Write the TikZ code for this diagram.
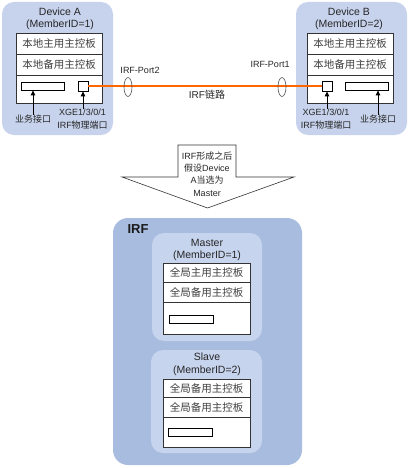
\documentclass[tikz,border=0pt]{standalone}
\usepackage{fontspec}
\setmainfont{Liberation Sans}
\newfontfamily\cjk{Noto Sans CJK SC}
\usetikzlibrary{shapes.geometric,arrows.meta}
\definecolor{devfill}{HTML}{C7D3EC}
\definecolor{irffill}{HTML}{A8BCE0}
\definecolor{memfill}{HTML}{C6D4EE}
\definecolor{linkor}{HTML}{FF6600}
\begin{document}
\begin{tikzpicture}[x=1pt,y=-1pt,
  outerbox/.style={fill=devfill, draw=none, rounded corners=12pt, inner sep=0pt},
  rowbox/.style={draw=black!80, fill=white, line width=0.7pt, inner sep=0pt, text=black!75,
    font=\cjk\fontsize{10.5}{12}\selectfont},
  portbox/.style={draw=black, fill=white, line width=0.8pt, inner sep=0pt},
  lbl/.style={font=\fontsize{9}{13}\selectfont, align=center, inner sep=0pt, text=black!85},
  titletxt/.style={font=\fontsize{10.5}{12.5}\selectfont, align=center, inner sep=0pt, text=black!85},
  portring/.style={ellipse, draw=black!70, line width=0.6pt, minimum width=8pt, minimum height=19pt, inner sep=0pt},
  uparrow/.style={-{Triangle[length=5pt,width=4.5pt]}, line width=0.8pt}
]
\useasboundingbox (0,0) rectangle (409,468);

% ---------- Device A ----------
\node[outerbox, minimum width=111pt, minimum height=133pt] (devA) at (57.5,68.5) {};
\node[titletxt] (tA) at (60,19) {Device A\\(MemberID=1)};
\node[rowbox, minimum width=86pt, minimum height=21pt] (rA1) at (59,43.5) {本地主用主控板};
\node[rowbox, minimum width=86pt, minimum height=21pt] (rA2) at (59,64.5) {本地备用主控板};
\node[rowbox, minimum width=86pt, minimum height=28pt] (rA3) at (59,89) {};
\node[portbox, minimum width=43pt, minimum height=8pt] (pA1) at (42.5,86) {};
\node[portbox, minimum width=10pt, minimum height=10pt] (pA2) at (83,86) {};
\node[lbl] (lA1) at (33,119) {\cjk 业务接口};
\node[lbl] (lA2) at (82.5,119.5) {XGE1/3/0/1\\IRF{\cjk 物理端口}};
\draw[uparrow] (lA1.north) -- (lA1.north |- pA1.south);
\draw[uparrow] (pA2.south |- lA2.north) -- (pA2.south);

% ---------- Device B ----------
\node[outerbox, minimum width=111pt, minimum height=133pt] (devB) at (351.5,68.5) {};
\node[titletxt] (tB) at (349,19) {Device B\\(MemberID=2)};
\node[rowbox, minimum width=86pt, minimum height=21pt] (rB1) at (350,43.5) {本地主用主控板};
\node[rowbox, minimum width=86pt, minimum height=21pt] (rB2) at (350,64.5) {本地备用主控板};
\node[rowbox, minimum width=86pt, minimum height=28pt] (rB3) at (350,89) {};
\node[portbox, minimum width=10pt, minimum height=10pt] (pB2) at (327,86) {};
\node[portbox, minimum width=43pt, minimum height=8pt] (pB1) at (366.5,86) {};
\node[lbl] (lB2) at (326,119.5) {XGE1/3/0/1\\IRF{\cjk 物理端口}};
\node[lbl] (lB1) at (378,119) {\cjk 业务接口};
\draw[uparrow] (pB2.south |- lB2.north) -- (pB2.south);
\draw[uparrow] (lB1.north) -- (lB1.north |- pB1.south);

% ---------- IRF link ----------
\draw[linkor, line width=2pt] (pA2.east) -- (pB2.west);
\node[portring] (ring2) at (128,87) {};
\node[portring] (ring1) at (282,87) {};
\node[lbl] (lp2) at (140,70) {IRF-Port2};
\node[lbl] (lp1) at (270,64) {IRF-Port1};
\node[titletxt, font=\fontsize{10}{12}\selectfont] (llink) at (207,95) {IRF{\cjk 链路}};

% ---------- big arrow ----------
\draw[fill=white, draw=black!80, line width=0.6pt]
  (178,145) -- (236,145) -- (236,177) -- (294,177) -- (207.5,208) -- (122,177) -- (178,177) -- cycle;
\node[lbl, font=\fontsize{9}{12.3}\selectfont] (arrtxt) at (207,174)
  {IRF{\cjk 形成之后}\\{\cjk 假设}Device\\A{\cjk 当选为}\\Master};

% ---------- IRF system ----------
\node[fill=irffill, rounded corners=15pt, minimum width=189pt, minimum height=247pt, inner sep=0pt] (irf) at (207.5,341.5) {};
\node[font=\bfseries\fontsize{13}{15}\selectfont, inner sep=0pt, text=black!90] (irflbl) at (138,229) {IRF};

% Master
\node[fill=memfill, rounded corners=12pt, minimum width=110pt, minimum height=108pt, inner sep=0pt] (mst) at (207,287) {};
\node[titletxt] (tM) at (207,250) {Master\\(MemberID=1)};
\node[rowbox, minimum width=87pt, minimum height=19pt] (rM1) at (206.5,272.5) {全局主用主控板};
\node[rowbox, minimum width=87pt, minimum height=20pt] (rM2) at (206.5,292) {全局备用主控板};
\node[rowbox, minimum width=87pt, minimum height=32pt] (rM3) at (206.5,318) {};
\node[portbox, minimum width=44pt, minimum height=8pt] (pM) at (191,319) {};

% Slave
\node[fill=memfill, rounded corners=12pt, minimum width=111pt, minimum height=103pt, inner sep=0pt] (slv) at (206.5,401.5) {};
\node[titletxt] (tS) at (207,364.5) {Slave\\(MemberID=2)};
\node[rowbox, minimum width=87pt, minimum height=18pt] (rS1) at (206.5,388) {全局备用主控板};
\node[rowbox, minimum width=87pt, minimum height=20pt] (rS2) at (206.5,407) {全局备用主控板};
\node[rowbox, minimum width=87pt, minimum height=30pt] (rS3) at (206.5,432) {};
\node[portbox, minimum width=44pt, minimum height=8pt] (pS) at (190,432.5) {};
\end{tikzpicture}
\end{document}
